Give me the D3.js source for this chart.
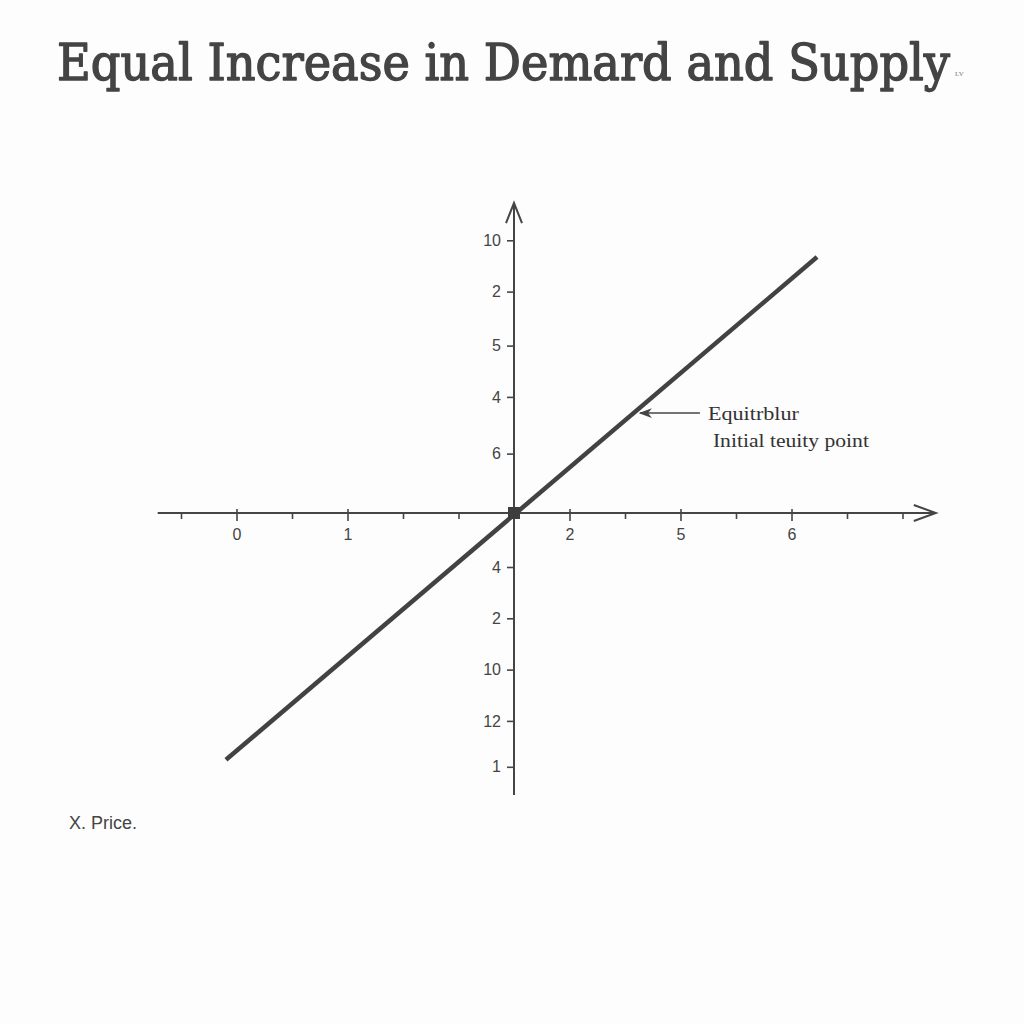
<!DOCTYPE html>
<html>
<head>
<meta charset="utf-8">
<script src="https://cdn.jsdelivr.net/npm/d3@7/dist/d3.min.js"></script>
<style>
  html, body { margin: 0; padding: 0; background: #fdfdfd; }
  svg { display: block; }
</style>
</head>
<body>
<div id="chart"></div>
<script>
// ---- data ----
const titleText = "Equal Increase in Demard and Supply";
const titleMark = "LV";
const xAxisLabel = "X. Price.";
const annotationLines = ["Equitrblur", "Initial teuity point"];

// x ticks (position in axis units, label; empty = minor tick)
const xTickValues = [-6, -5, -4, -3, -2, -1, 1, 2, 3, 4, 5, 6, 7];
const xTickLabels = ["", "0", "", "1", "", "", "2", "", "5", "", "6", "", ""];

// y ticks (position in axis units, label)
const yTickValues = [5.05, 4.1, 3.1, 2.15, 1.1, -1.0, -1.95, -2.9, -3.85, -4.7];
const yTickLabels = ["10", "2", "5", "4", "6", "4", "2", "10", "12", "1"];

// axis extents (axis units)
const xExtent = [-6.42, 7.6];
const yExtent = [-5.22, 5.74];

// the single line (axis units)
const lineX = [-5.19, 5.46];
const lineY = [-4.57, 4.74];

// equilibrium point and annotation target (axis units)
const pointX = [0];
const pointY = [0];
const annotX = [2.27, 3.35];
const annotY = [1.85];

// ---- drawing ----
const W = 1024, H = 1024;
const svg = d3.select("#chart").append("svg").attr("width", W).attr("height", H);
svg.append("rect").attr("width", W).attr("height", H).attr("fill", "#fdfdfd");

const ink = "#454545";
const x = d3.scaleLinear().domain([0, 1]).range([514, 569.5]);
const y = d3.scaleLinear().domain([0, 1]).range([513, 459]);

// title
svg.append("text")
  .attr("x", 57).attr("y", 80)
  .attr("textLength", 893).attr("lengthAdjust", "spacingAndGlyphs")
  .attr("font-family", "'DejaVu Serif Condensed', 'DejaVu Serif', serif")
  .attr("font-size", 50)
  .attr("fill", "#444").attr("stroke", "#444").attr("stroke-width", 1.3)
  .attr("stroke-linejoin", "round")
  .text(titleText);
svg.append("text")
  .attr("x", 955).attr("y", 76)
  .attr("font-family", "'Liberation Serif', serif")
  .attr("font-size", 7).attr("fill", "#777")
  .text(titleMark);

// x axis
const xAxisG = svg.append("g").attr("transform", `translate(0,${y(0)})`);
const xAxis = d3.axisBottom(x).tickValues(xTickValues)
  .tickSize(7).tickPadding(9)
  .tickFormat((d, i) => xTickLabels[i]);
xAxisG.call(xAxis);
xAxisG.select(".domain").remove();
xAxisG.append("line")
  .attr("x1", x(xExtent[0])).attr("x2", x(xExtent[1]))
  .attr("stroke", ink).attr("stroke-width", 2);
xAxisG.selectAll(".tick line").attr("stroke", ink).attr("stroke-width", 1.6)
  .attr("y1", (d, i) => xTickLabels[i] ? -4 : 0)
  .attr("y2", (d, i) => xTickLabels[i] ? 8 : 6);
xAxisG.selectAll(".tick text")
  .attr("font-family", "'Liberation Sans', Arial, sans-serif")
  .attr("font-size", 16).attr("fill", "#444");
// x arrow head
const xe = x(xExtent[1]);
xAxisG.append("path")
  .attr("d", `M${xe - 22},-8 L${xe},0 L${xe - 22},8`)
  .attr("fill", "none").attr("stroke", ink).attr("stroke-width", 2);

// y axis
const yAxisG = svg.append("g").attr("transform", `translate(${x(0)},0)`);
const yAxis = d3.axisLeft(y).tickValues(yTickValues)
  .tickSize(7).tickPadding(6)
  .tickFormat((d, i) => yTickLabels[i]);
yAxisG.call(yAxis);
yAxisG.select(".domain").remove();
yAxisG.append("line")
  .attr("y1", y(yExtent[0])).attr("y2", y(yExtent[1]))
  .attr("stroke", ink).attr("stroke-width", 2);
yAxisG.selectAll(".tick line").attr("stroke", ink).attr("stroke-width", 1.6);
yAxisG.selectAll(".tick text")
  .attr("font-family", "'Liberation Sans', Arial, sans-serif")
  .attr("font-size", 16).attr("fill", "#444");
const ye = y(yExtent[1]);
yAxisG.append("path")
  .attr("d", `M-8,${ye + 20} L0,${ye} L8,${ye + 20}`)
  .attr("fill", "none").attr("stroke", ink).attr("stroke-width", 2);

// the line
const lineData = lineX.map((v, i) => [v, lineY[i]]);
svg.append("path")
  .datum(lineData)
  .attr("d", d3.line().x(d => x(d[0])).y(d => y(d[1])))
  .attr("fill", "none").attr("stroke", "#424242").attr("stroke-width", 4.5);

// equilibrium point
svg.selectAll(".pt").data(pointX).enter().append("rect")
  .attr("x", (d) => x(d) - 6).attr("y", (d, i) => y(pointY[i]) - 6)
  .attr("width", 12).attr("height", 12).attr("fill", "#3d3d3d");

// annotation arrow
const defs = svg.append("defs");
defs.append("marker").attr("id", "ah").attr("viewBox", "0 0 12 10")
  .attr("refX", 11).attr("refY", 5).attr("markerWidth", 13).attr("markerHeight", 11)
  .attr("markerUnits", "userSpaceOnUse").attr("orient", "auto")
  .append("path").attr("d", "M12,5 L0,0.5 L3.5,5 L0,9.5 Z").attr("fill", ink);
svg.append("line")
  .attr("x1", x(annotX[1])).attr("x2", x(annotX[0]))
  .attr("y1", y(annotY[0])).attr("y2", y(annotY[0]))
  .attr("stroke", ink).attr("stroke-width", 1.5)
  .attr("marker-end", "url(#ah)");

svg.append("text")
  .attr("x", x(annotX[1]) + 8).attr("y", y(annotY[0]) + 7)
  .attr("textLength", 91).attr("lengthAdjust", "spacingAndGlyphs")
  .attr("font-family", "'Liberation Serif', serif")
  .attr("font-size", 19).attr("fill", "#333")
  .text(annotationLines[0]);
svg.append("text")
  .attr("x", x(annotX[1]) + 13).attr("y", y(annotY[0]) + 34)
  .attr("textLength", 156).attr("lengthAdjust", "spacingAndGlyphs")
  .attr("font-family", "'Liberation Serif', serif")
  .attr("font-size", 19).attr("fill", "#333")
  .text(annotationLines[1]);

// bottom-left axis label
svg.append("text")
  .attr("x", 69).attr("y", 829)
  .attr("font-family", "'Liberation Sans', Arial, sans-serif")
  .attr("font-size", 18).attr("fill", "#444")
  .text(xAxisLabel);
</script>
</body>
</html>
